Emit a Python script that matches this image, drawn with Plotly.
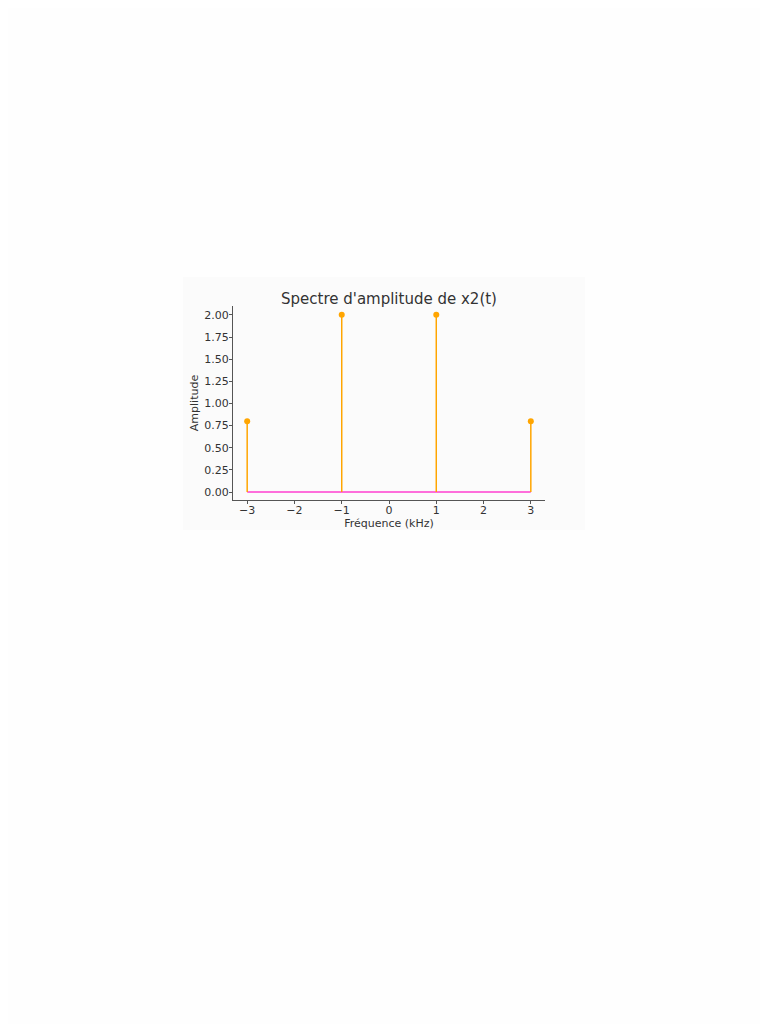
import plotly.graph_objects as go

# spectre de raies
freqs = [-3, -1, 1, 3]
amps = [0.8, 2.0, 2.0, 0.8]

x_ticks = [-3, -2, -1, 0, 1, 2, 3]
y_ticks = [0.0, 0.25, 0.5, 0.75, 1.0, 1.25, 1.5, 1.75, 2.0]

# stems: one segment per line, separated by None
stem_x, stem_y = [], []
for f, a in zip(freqs, amps):
    stem_x += [f, f, None]
    stem_y += [0, a, None]

fig = go.Figure()
fig.add_trace(go.Scatter(
    x=[min(freqs), max(freqs)], y=[0, 0], mode='lines',
    line=dict(color='#ff3fd0', width=1.5), hoverinfo='skip'
))
fig.add_trace(go.Scatter(
    x=stem_x, y=stem_y, mode='lines',
    line=dict(color='#ffa500', width=1.5), hoverinfo='skip'
))
fig.add_trace(go.Scatter(
    x=freqs, y=amps, mode='markers',
    marker=dict(color='#ffa500', size=6)
))

font = dict(family='DejaVu Sans', size=11, color='#333333')

# the page body has an 8px margin, hence l/t shifted by 8
fig.update_layout(
    width=768, height=1024,
    showlegend=False,
    paper_bgcolor='#fefefe',
    plot_bgcolor='#fcfcfc',
    margin=dict(l=225, r=231, t=298, b=532),
    font=font,
    title=dict(text="Spectre d'amplitude de x2(t)", x=0.5, xref='paper',
               y=1, yref='paper', yanchor='bottom', pad=dict(b=2),
               font=dict(family='DejaVu Sans', size=15, color='#333333')),
    shapes=[dict(type='rect', xref='paper', yref='paper', layer='below',
                 x0=-50 / 312, x1=1 + 40 / 312, y0=-30 / 194, y1=1 + 29 / 194,
                 fillcolor='#fbfbfb', line=dict(width=0))],
    xaxis=dict(
        range=[-3.3, 3.3], tickvals=x_ticks, showgrid=False, zeroline=False,
        showline=True, linecolor='#555555', linewidth=1,
        ticks='outside', ticklen=3, tickcolor='#555555',
        ticklabelstandoff=-3,
        title=dict(text='Fréquence (kHz)', standoff=2, font=font)
    ),
    yaxis=dict(
        range=[-0.09, 2.1], tickvals=y_ticks, tickformat='.2f',
        showgrid=False, zeroline=False,
        showline=True, linecolor='#555555', linewidth=1,
        ticks='outside', ticklen=3, tickcolor='#555555',
        ticklabelstandoff=-2,
        title=dict(text='Amplitude', standoff=3, font=font)
    )
)

fig.write_html("out.html")
